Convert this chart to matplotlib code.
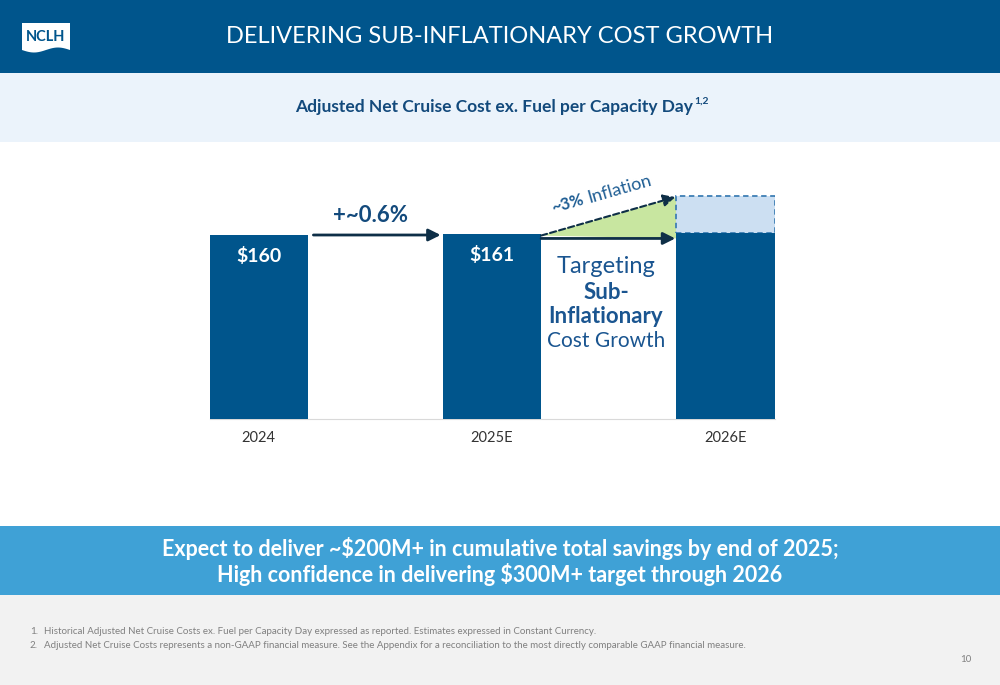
import numpy as np
import matplotlib.pyplot as plt
from matplotlib.patches import Rectangle, Polygon

plt.rcParams['font.family'] = ['Lato', 'DejaVu Sans']

# data
years = ['2024', '2025E', '2026E']
cost = [160, 161, 162]           # 2026E target bar (unlabelled)
cost_labels = ['$160', '$161', '']
inflation_ceiling = 194          # schematic top of the ~3% inflation box
growth_label = '+~0.6%'
footnotes = [
    'Historical Adjusted Net Cruise Costs ex. Fuel per Capacity Day expressed as reported. Estimates expressed in Constant Currency.',
    'Adjusted Net Cruise Costs represents a non-GAAP financial measure. See the Appendix for a reconciliation to the most directly comparable GAAP financial measure.',
]
banner_lines = ['Expect to deliver ~$200M+ in cumulative total savings by end of 2025;',
                'High confidence in delivering $300M+ target through 2026']

navy = '#00558C'
arrow_c = '#0E2F47'
text_blue = '#134A7C'

fig = plt.figure(figsize=(10, 6.85), dpi=100)

# background in pixel coords
bg = fig.add_axes([0, 0, 1, 1])
bg.set_xlim(0, 1000)
bg.set_ylim(685, 0)
bg.axis('off')
bg.add_patch(Rectangle((0, 0), 1000, 73, color=navy, lw=0))
bg.add_patch(Rectangle((0, 73), 1000, 69, color='#EBF3FB', lw=0))
bg.add_patch(Rectangle((0, 526), 1000, 69, color='#3FA1D6', lw=0))
bg.add_patch(Rectangle((0, 595), 1000, 90, color='#F2F2F2', lw=0))

# logo
xs = np.linspace(22, 70, 30)
wave = 50 + 2.5 * np.sin((xs - 22) / 48 * 2 * np.pi)
logo = [(22, 23), (70, 23)] + list(zip(xs[::-1], wave[::-1]))
bg.add_patch(Polygon(logo, closed=True, color='white', lw=0))
bg.text(46, 37, 'NCLH', ha='center', va='center', fontsize=10.5, fontweight='bold',
        color=navy, fontstretch='condensed')

bg.text(500, 36, 'DELIVERING SUB-INFLATIONARY COST GROWTH', ha='center', va='center',
        fontsize=17, color='white')

sub = bg.text(494, 107, 'Adjusted Net Cruise Cost ex. Fuel per Capacity Day', ha='center',
              va='center', fontsize=12.5, fontweight='bold', color=text_blue)
fig.canvas.draw()
ext = sub.get_window_extent()
bg.text(ext.x1 + 1, 101, '1,2', ha='left', va='center', fontsize=7.5, fontweight='bold',
        color=text_blue)

for i, line in enumerate(banner_lines):
    bg.text(500, 548 + 27 * i, line, ha='center', va='center', fontsize=15.5,
            fontweight='bold', color='white')

for i, note in enumerate(footnotes):
    bg.text(30, 631 + 15 * i, f'{i + 1}.', ha='left', va='center', fontsize=7, color='#808080')
    bg.text(44, 631 + 15 * i, note, ha='left', va='center', fontsize=7, color='#808080')
bg.text(966, 659, '10', ha='center', va='center', fontsize=7, color='#808080')

# chart axes
ax = fig.add_axes([209.5 / 1000, (685 - 419) / 685, 565 / 1000, (419 - 175) / 685])
ax.set_facecolor('none')
x = np.arange(len(years))
w = 0.42
ax.set_xlim(-0.21, 2.21)
ax.set_ylim(0, 160 * (419 - 175) / (419 - 235))

ax.bar(x[2], inflation_ceiling - cost[2], bottom=cost[2], width=w, color='#CCDFF2',
       edgecolor='#3F7FB5', linestyle=(0, (3, 2)), lw=1.3, zorder=2)
ax.bar(x, cost, width=w, color=navy, zorder=3)
for xi, v, lab in zip(x, cost, cost_labels):
    if lab:
        ax.annotate(lab, (xi, v), xytext=(0, -21), textcoords='offset pixels', ha='center',
                    va='center', fontsize=14, fontweight='bold', color='white', zorder=4)

# +~0.6% arrow
ax.annotate('', xy=(x[1] - w / 2 - 0.01, cost[0]), xytext=(x[0] + w / 2 + 0.025, cost[0]),
            arrowprops=dict(arrowstyle='-|>', color=arrow_c, lw=2, mutation_scale=18,
                            shrinkA=0, shrinkB=0))
ax.annotate(growth_label, ((x[0] + x[1]) / 2 - 0.02, cost[0]), xytext=(0, 19),
            textcoords='offset pixels', ha='center', va='center', fontsize=16,
            fontweight='bold', color=text_blue)

# inflation wedge
x0 = x[1] + w / 2
x1 = x[2] - w / 2
base = cost[1] - 4
top = inflation_ceiling - 1
ax.fill([x0, x1, x1], [cost[1] - 1.5, top, base], color='#C8E6A0', lw=0, zorder=1)
ax.annotate('', xy=(x1 - 0.005, base), xytext=(x0, base),
            arrowprops=dict(arrowstyle='-|>', color=arrow_c, lw=2, mutation_scale=18,
                            shrinkA=0, shrinkB=0), zorder=5)
ax.annotate('', xy=(x1 - 0.005, top), xytext=(x0, cost[1] - 1.5),
            arrowprops=dict(arrowstyle='-|>', color=arrow_c, lw=1.5, mutation_scale=18,
                            linestyle=(0, (3, 1.5)), shrinkA=0, shrinkB=0), zorder=5)

bg.text(553, 213, '~3%', rotation=16, rotation_mode='anchor', ha='left', va='baseline',
        fontsize=12, fontweight='bold', color='#1F5E94')
bg.text(589, 203, 'Inflation', rotation=16, rotation_mode='anchor', ha='left',
        va='baseline', fontsize=13, color='#1F5E94')

tcol = '#1A5590'
bg.text(606, 266, 'Targeting', ha='center', va='center', fontsize=17, color=tcol)
bg.text(606, 292, 'Sub-', ha='center', va='center', fontsize=16, fontweight='bold', color=tcol)
bg.text(606, 316, 'Inflationary', ha='center', va='center', fontsize=16, fontweight='bold', color=tcol)
bg.text(606, 341, 'Cost Growth', ha='center', va='center', fontsize=15, color=tcol)

ax.set_xticks(x, years)
ax.tick_params(axis='x', length=0, pad=9, labelsize=10.5, labelcolor='#333333')
ax.set_yticks([])
for s in ['top', 'left', 'right']:
    ax.spines[s].set_visible(False)
ax.spines['bottom'].set_color('#D9D9D9')

fig.savefig('out.png', dpi=100)
